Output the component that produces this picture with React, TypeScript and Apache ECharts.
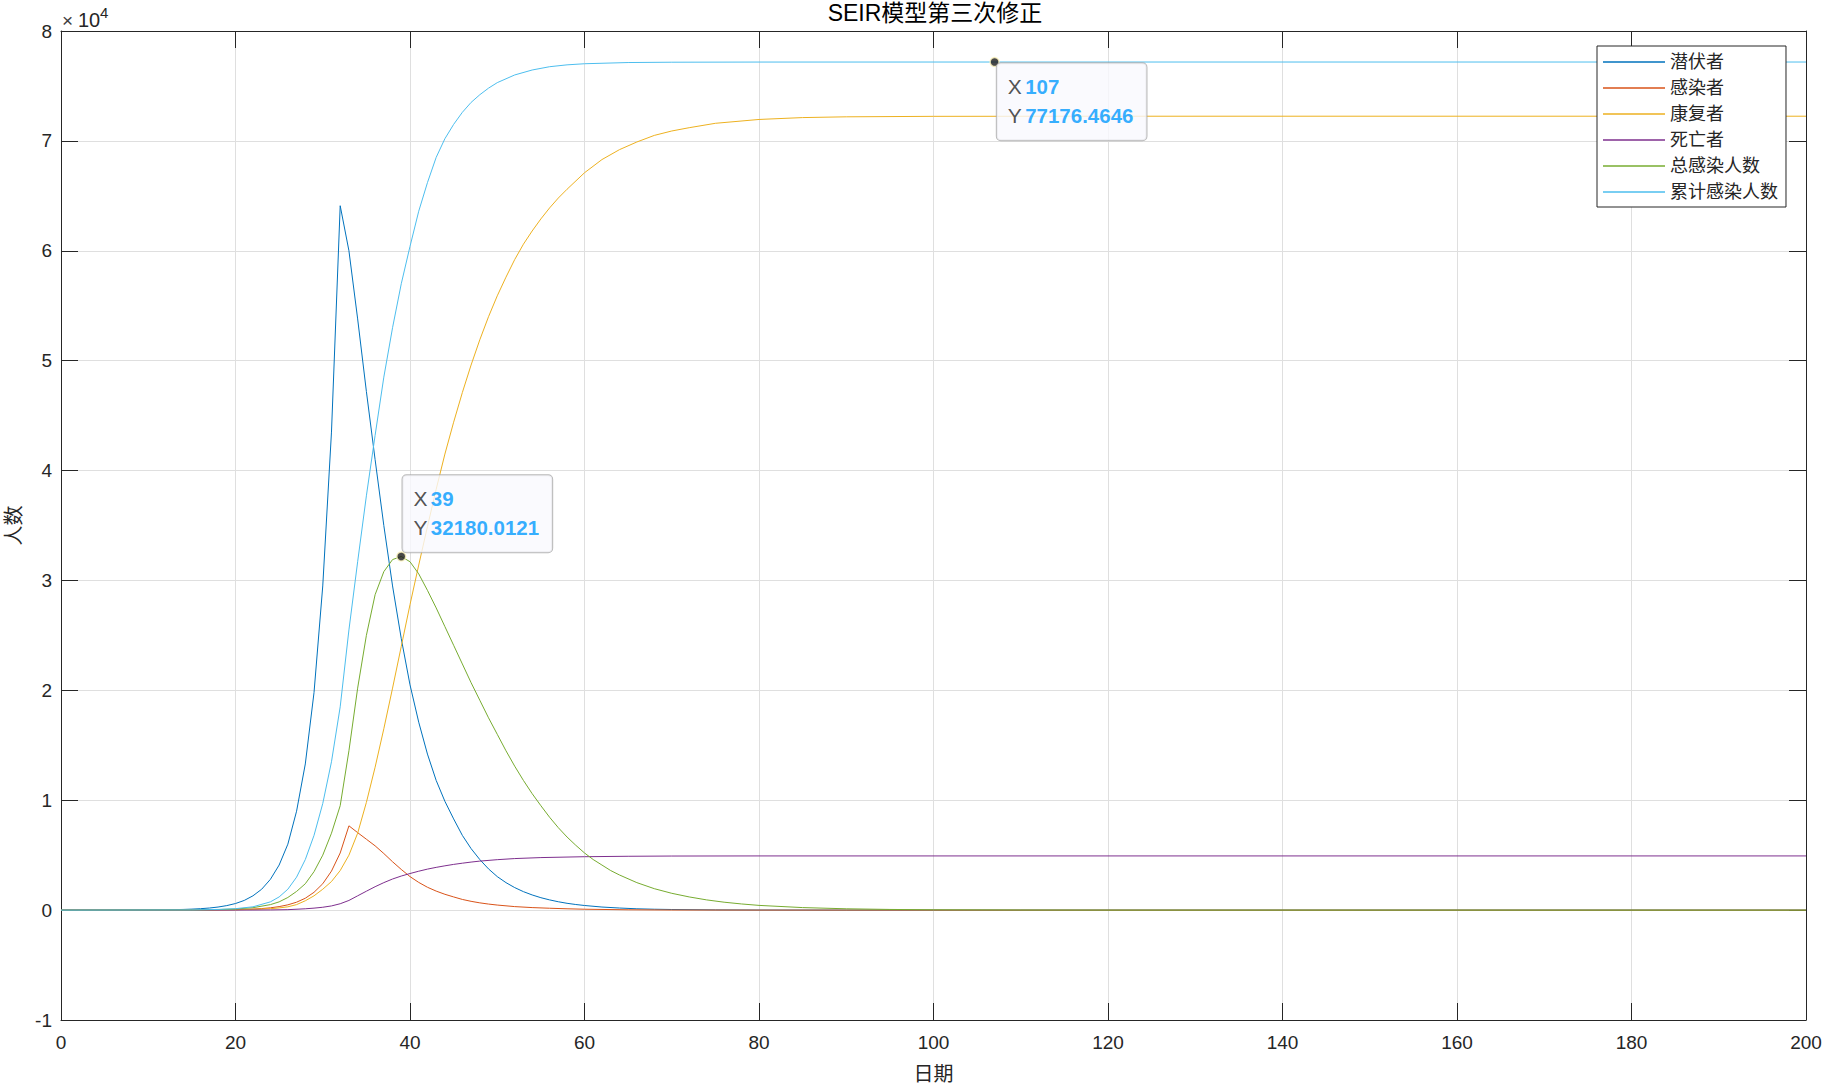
import React, { useEffect, useRef } from "react";
import * as echarts from "echarts";

const FONT = "'Liberation Sans', 'Noto Sans CJK SC', sans-serif";

const chartTitle = "SEIR模型第三次修正";
const xAxisName = "日期";
const yAxisName = "人数";
const seriesNames = ["潜伏者", "感染者", "康复者", "死亡者", "总感染人数", "累计感染人数"];
const seriesColors = ["#0072BD", "#D95319", "#EDB120", "#7E2F8E", "#77AC30", "#4DBEEE"];

// values in units of 10^4 persons, [day, value]
const exposed: [number, number][] = [
  [0, 0], [5, 0.0003], [10, 0.0015], [12, 0.003], [14, 0.006], [15, 0.009], [16, 0.013], [17, 0.019],
  [18, 0.028], [19, 0.041], [20, 0.06], [21, 0.088], [22, 0.13], [23, 0.19], [24, 0.28], [25, 0.41],
  [26, 0.6], [27, 0.9], [28, 1.33], [29, 1.98], [30, 2.95], [31, 4.35], [32, 6.41], [33, 6.0],
  [34, 5.38], [35, 4.72], [36, 4.1], [37, 3.5], [38, 2.95], [39, 2.47], [40, 2.05], [41, 1.71],
  [42, 1.42], [43, 1.18], [44, 0.99], [45, 0.83], [46, 0.68], [47, 0.56], [48, 0.46], [49, 0.375],
  [50, 0.305], [51, 0.25], [52, 0.205], [53, 0.168], [54, 0.138], [55, 0.113], [56, 0.093], [57, 0.076],
  [58, 0.062], [59, 0.051], [60, 0.042], [62, 0.028], [64, 0.019], [66, 0.012], [68, 0.008], [70, 0.0055],
  [75, 0.002], [80, 0.0008], [90, 0.0001], [100, 0], [200, 0],
];
const infected: [number, number][] = [
  [0, 0], [10, 0.0001], [12, 0.0002], [14, 0.0004], [16, 0.0008], [18, 0.0019], [20, 0.0042], [21, 0.0063],
  [22, 0.0095], [23, 0.014], [24, 0.021], [25, 0.032], [26, 0.048], [27, 0.072], [28, 0.108], [29, 0.162],
  [30, 0.24], [31, 0.355], [32, 0.52], [33, 0.767], [34, 0.705], [35, 0.645], [36, 0.585], [37, 0.515],
  [38, 0.44], [39, 0.37], [40, 0.305], [41, 0.252], [42, 0.208], [43, 0.173], [44, 0.144], [45, 0.12],
  [46, 0.097], [47, 0.08], [48, 0.066], [49, 0.055], [50, 0.046], [52, 0.032], [54, 0.023], [56, 0.017],
  [58, 0.012], [60, 0.008], [65, 0.003], [70, 0.001], [80, 0.0002], [100, 0], [200, 0],
];
const recovered: [number, number][] = [
  [0, 0], [15, 0.0005], [20, 0.003], [22, 0.007], [24, 0.013], [25, 0.02], [26, 0.03], [27, 0.05],
  [28, 0.085], [29, 0.13], [30, 0.19], [31, 0.26], [32, 0.36], [33, 0.5], [34, 0.7], [35, 0.98],
  [36, 1.3], [37, 1.65], [38, 2.02], [39, 2.4], [40, 2.78], [41, 3.14], [42, 3.49], [43, 3.83],
  [44, 4.15], [45, 4.44], [46, 4.71], [47, 4.96], [48, 5.19], [49, 5.4], [50, 5.59], [51, 5.76],
  [52, 5.92], [53, 6.06], [54, 6.18], [55, 6.29], [56, 6.39], [57, 6.48], [58, 6.56], [60, 6.71],
  [62, 6.83], [64, 6.92], [66, 6.99], [68, 7.05], [70, 7.09], [72, 7.12], [75, 7.16], [80, 7.195],
  [85, 7.212], [90, 7.219], [100, 7.2235], [120, 7.2245], [200, 7.2246],
];
const deaths: [number, number][] = [
  [0, 0], [20, 0.0003], [22, 0.0006], [24, 0.0015], [26, 0.004], [28, 0.012], [29, 0.018], [30, 0.026],
  [31, 0.038], [32, 0.058], [33, 0.088], [34, 0.13], [35, 0.172], [36, 0.213], [37, 0.25], [38, 0.283],
  [39, 0.31], [40, 0.333], [41, 0.354], [42, 0.373], [43, 0.389], [44, 0.403], [45, 0.416], [46, 0.427],
  [47, 0.437], [48, 0.446], [50, 0.459], [52, 0.469], [55, 0.478], [60, 0.486], [65, 0.49], [70, 0.492],
  [80, 0.493], [200, 0.493],
];
const totalInfected: [number, number][] = [
  [0, 0], [15, 0.002], [18, 0.005], [20, 0.01], [22, 0.022], [24, 0.05], [25, 0.075], [26, 0.115],
  [27, 0.17], [28, 0.24], [29, 0.35], [30, 0.5], [31, 0.7], [32, 0.95], [33, 1.45], [34, 2.02],
  [35, 2.5], [36, 2.87], [37, 3.08], [38, 3.19], [39, 3.218], [40, 3.17], [41, 3.06], [42, 2.91],
  [43, 2.75], [44, 2.58], [45, 2.41], [46, 2.24], [47, 2.07], [48, 1.91], [49, 1.75], [50, 1.6],
  [51, 1.45], [52, 1.31], [53, 1.18], [54, 1.06], [55, 0.95], [56, 0.845], [57, 0.75], [58, 0.665],
  [59, 0.59], [60, 0.52], [61, 0.46], [62, 0.41], [63, 0.36], [64, 0.32], [66, 0.25], [68, 0.195],
  [70, 0.153], [72, 0.12], [74, 0.093], [76, 0.072], [78, 0.056], [80, 0.043], [85, 0.023], [90, 0.012],
  [95, 0.006], [100, 0.003], [110, 0.001], [120, 0.0003], [200, 0],
];
const cumulative: [number, number][] = [
  [0, 0], [15, 0.002], [18, 0.006], [20, 0.013], [22, 0.03], [24, 0.075], [25, 0.12], [26, 0.19],
  [27, 0.3], [28, 0.46], [29, 0.68], [30, 0.97], [31, 1.35], [32, 1.85], [33, 2.55], [34, 3.17],
  [35, 3.77], [36, 4.32], [37, 4.85], [38, 5.3], [39, 5.7], [40, 6.04], [41, 6.36], [42, 6.62],
  [43, 6.85], [44, 7.02], [45, 7.15], [46, 7.26], [47, 7.35], [48, 7.42], [49, 7.48], [50, 7.53],
  [52, 7.6], [54, 7.645], [56, 7.675], [58, 7.692], [60, 7.702], [65, 7.713], [70, 7.716], [80, 7.7174],
  [107, 7.71765], [200, 7.71765],
];

// data tips: [day, value in 10^4, shown text]
const tipDays = [39, 107];
const tipValues = [3.21800121, 7.71764646];
const tipTexts = ["32180.0121", "77176.4646"];

const X_MIN = 0, X_MAX = 200, X_STEP = 20;
const Y_MIN = -1, Y_MAX = 8, Y_STEP = 1;

const seriesData = [exposed, infected, recovered, deaths, totalInfected, cumulative];

export default function App() {
  const ref = useRef<HTMLDivElement>(null);
  useEffect(() => {
    if (!ref.current) return;
    const chart = echarts.init(ref.current, undefined, { renderer: "svg" });
    const axisColor = "#262626";
    const gridColor = "#dfdfdf";
    const lineSeries = seriesNames.map((name, i) => ({
      name,
      type: "line",
      data: seriesData[i],
      showSymbol: false,
      symbol: "none",
      lineStyle: { width: 1, color: seriesColors[i] },
      itemStyle: { color: seriesColors[i] },
      xAxisIndex: 0,
      yAxisIndex: 0,
      z: 2,
    }));
    const tipRich = {
      k: { fontSize: 21, color: "#262626", fontFamily: FONT, lineHeight: 29 },
      v: { fontSize: 20.5, color: "#0099ff", fontWeight: "bold", fontFamily: FONT, lineHeight: 29 },
    };
    const tipPositions = [[6.5, -76], [7.5, 6.5]];
    const tipSeries = tipDays.map((d, i) => ({
      type: "scatter",
      name: "tip" + i,
      data: [[d, tipValues[i]]],
      symbol: "circle",
      symbolSize: 9,
      silent: true,
      z: 10,
      itemStyle: { color: "#1a1a1a", borderColor: "#fff6c0", borderWidth: 1.5 },
      label: {
        show: true,
        position: tipPositions[i],
        align: "left",
        verticalAlign: "top",
        formatter: `{k|X} {v|${d}}\n{k|Y} {v|${tipTexts[i]}}`,
        rich: tipRich,
        backgroundColor: "#f9f9fe",
        borderColor: "#a6a6a6",
        borderWidth: 1,
        borderRadius: 4,
        padding: [9, 13, 10, 11],
      },
    }));

    chart.setOption({
      animation: false,
      textStyle: { fontFamily: FONT },
      grid: { left: 61, right: 19, top: 31, bottom: 66, containLabel: false, outerBoundsMode: "none" },
      legend: {
        data: seriesNames,
        orient: "vertical",
        left: 1597,
        top: 46,
        icon: "rect",
        itemWidth: 62,
        itemHeight: 1.3,
        itemGap: 6,
        padding: [6, 8, 5, 6],
        backgroundColor: "#ffffff",
        borderColor: "#262626",
        borderWidth: 1,
        borderRadius: 0,
        textStyle: { fontSize: 18, color: "#262626", fontFamily: FONT, lineHeight: 20 },
      },
      graphic: [
        {
          type: "text",
          x: 935,
          y: 13,
          style: { text: chartTitle, fontSize: 23, fontFamily: FONT, fill: "#000", align: "center", verticalAlign: "middle" },
        },
        {
          type: "text",
          x: 62,
          y: 20,
          style: { text: "×", fontSize: 19, fontFamily: FONT, fill: "#404040", align: "left", verticalAlign: "middle" },
        },
        {
          type: "text",
          x: 78,
          y: 20,
          style: { text: "10", fontSize: 20, fontFamily: FONT, fill: "#262626", align: "left", verticalAlign: "middle" },
        },
        {
          type: "text",
          x: 100,
          y: 12,
          style: { text: "4", fontSize: 15, fontFamily: FONT, fill: "#262626", align: "left", verticalAlign: "middle" },
        },
      ],
      xAxis: [
        {
          type: "value",
          min: X_MIN,
          max: X_MAX,
          interval: X_STEP,
          position: "bottom",
          name: xAxisName,
          nameLocation: "middle",
          nameGap: 44,
          nameTextStyle: { fontSize: 20, color: axisColor, fontFamily: FONT },
          axisLine: { show: true, onZero: false, lineStyle: { color: axisColor, width: 1 } },
          axisTick: { show: true, inside: true, length: 17, lineStyle: { color: axisColor } },
          axisLabel: { color: axisColor, fontSize: 19, margin: 13, fontFamily: FONT },
          splitLine: { show: true, lineStyle: { color: gridColor, width: 1 } },
        },
        {
          type: "value",
          min: X_MIN,
          max: X_MAX,
          interval: X_STEP,
          position: "top",
          axisLine: { show: true, onZero: false, lineStyle: { color: axisColor, width: 1 } },
          axisTick: { show: true, inside: true, length: 17, lineStyle: { color: axisColor } },
          axisLabel: { show: false },
          splitLine: { show: false },
        },
      ],
      yAxis: [
        {
          type: "value",
          min: Y_MIN,
          max: Y_MAX,
          interval: Y_STEP,
          position: "left",
          name: yAxisName,
          nameLocation: "middle",
          nameGap: 37,
          nameRotate: 90,
          nameTextStyle: { fontSize: 20, color: axisColor, fontFamily: FONT },
          axisLine: { show: true, onZero: false, lineStyle: { color: axisColor, width: 1 } },
          axisTick: { show: true, inside: true, length: 17, lineStyle: { color: axisColor } },
          axisLabel: { color: axisColor, fontSize: 19, margin: 9, fontFamily: FONT },
          splitLine: { show: true, lineStyle: { color: gridColor, width: 1 } },
        },
        {
          type: "value",
          min: Y_MIN,
          max: Y_MAX,
          interval: Y_STEP,
          position: "right",
          axisLine: { show: true, onZero: false, lineStyle: { color: axisColor, width: 1 } },
          axisTick: { show: true, inside: true, length: 17, lineStyle: { color: axisColor } },
          axisLabel: { show: false },
          splitLine: { show: false },
        },
      ],
      series: [...lineSeries, ...tipSeries],
    });
    return () => chart.dispose();
  }, []);
  return (
    <div
      ref={ref}
      style={{ position: "fixed", left: 0, top: 0, width: 1825, height: 1086, background: "#fff" }}
    />
  );
}
